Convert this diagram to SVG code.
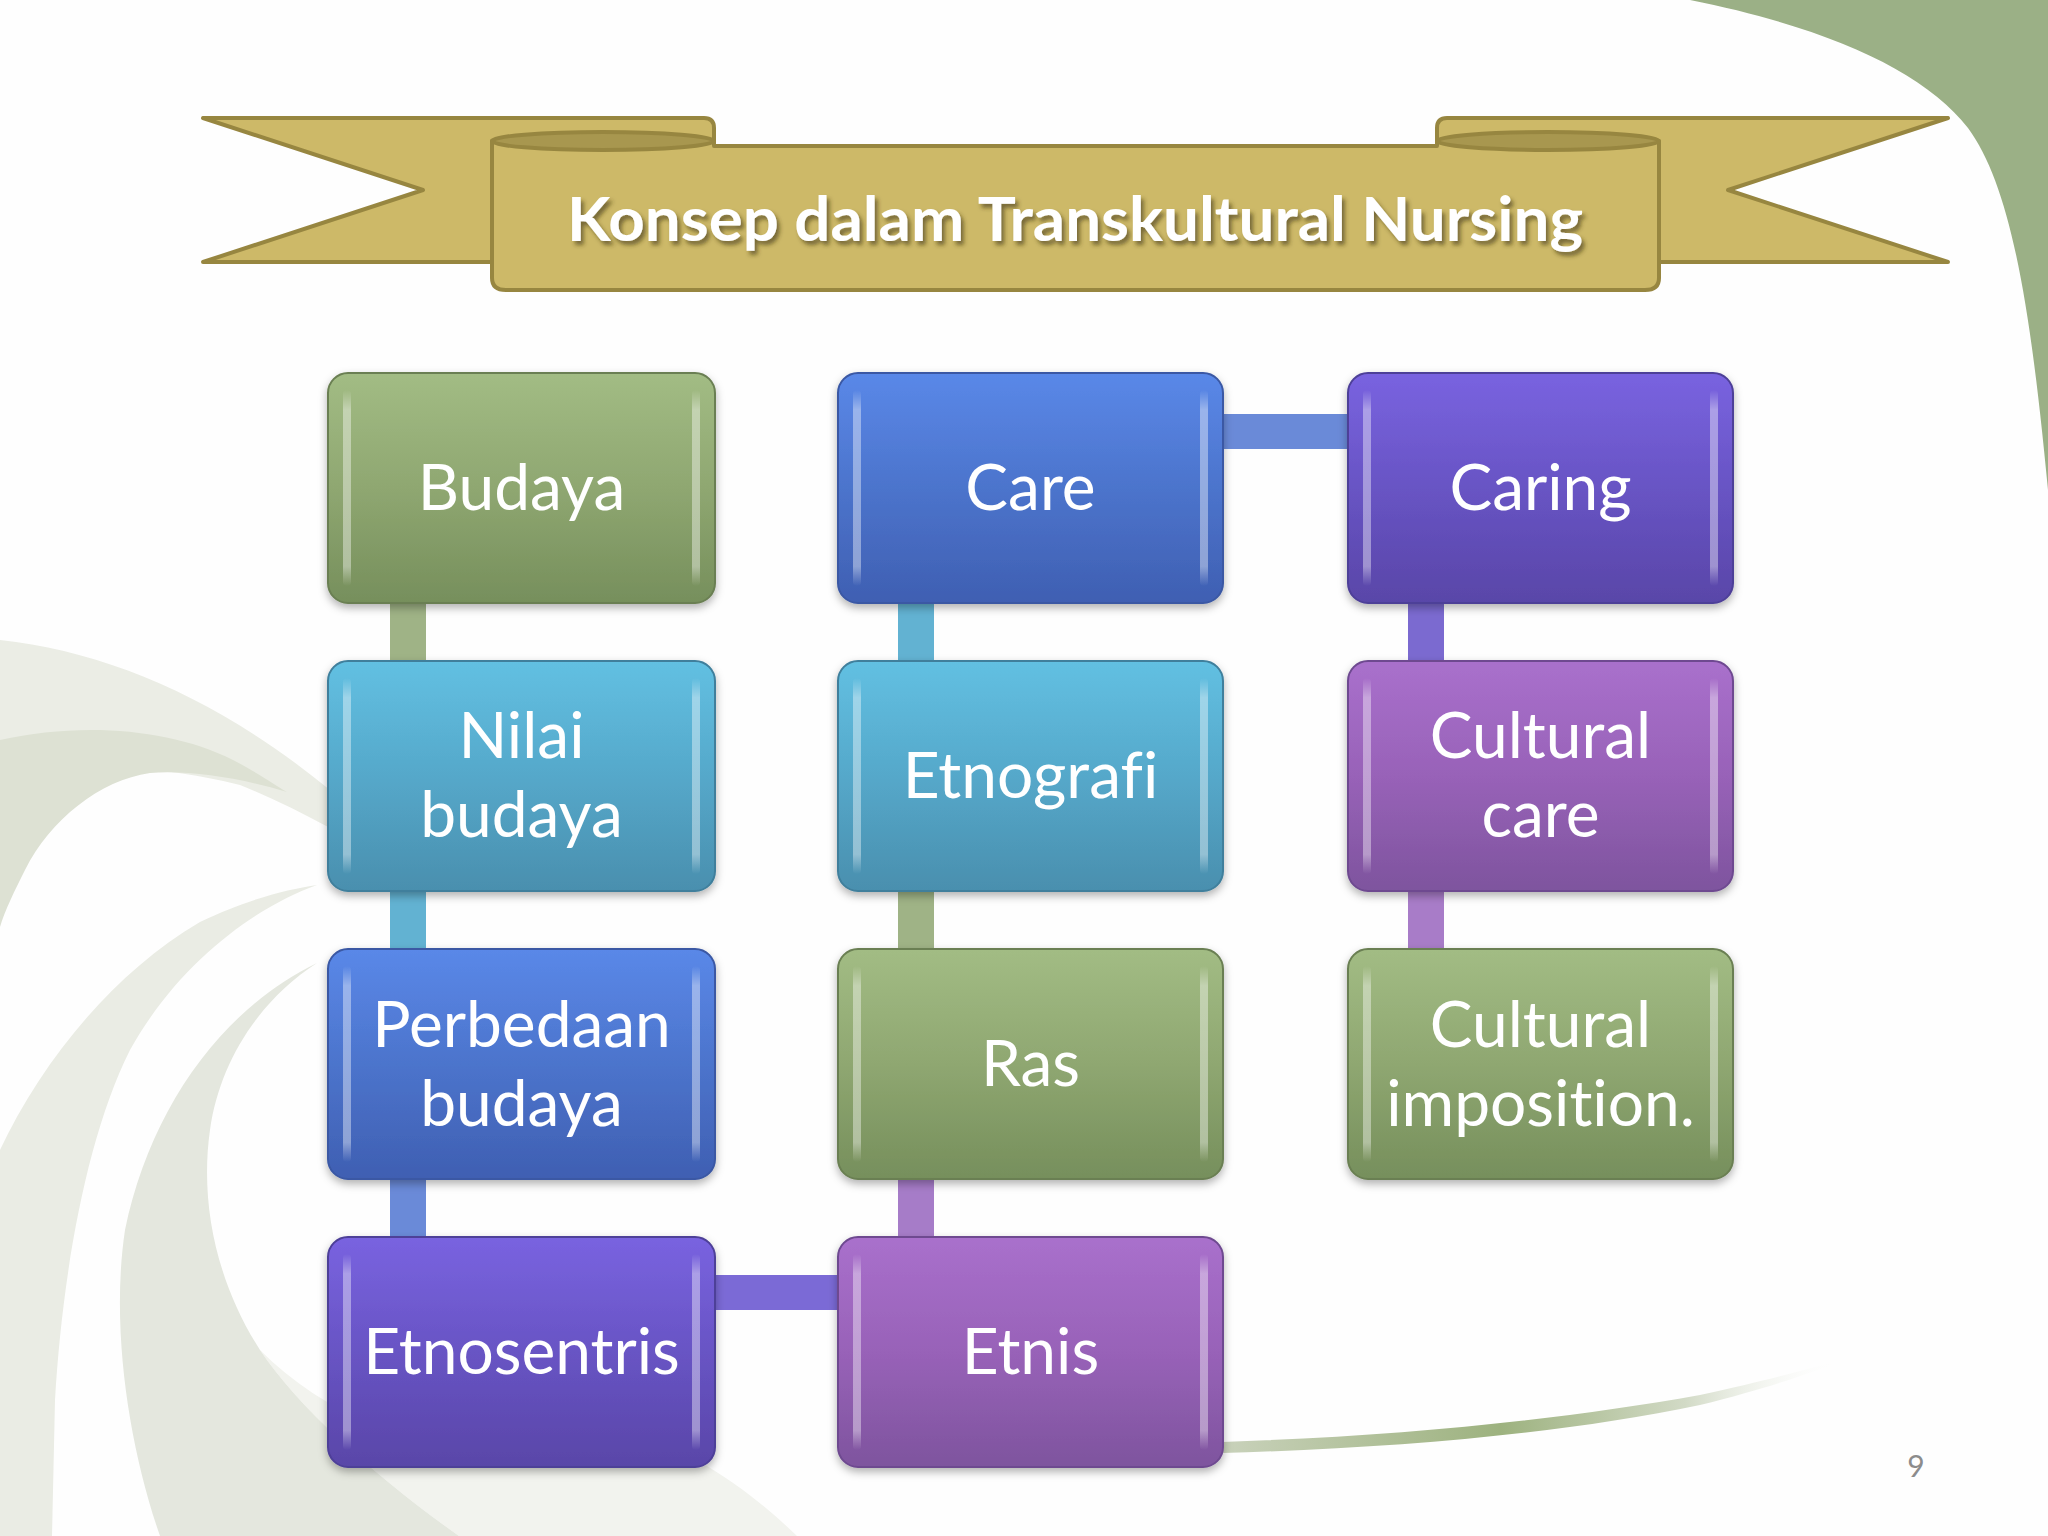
<svg xmlns="http://www.w3.org/2000/svg" width="2048" height="1536" viewBox="0 0 2048 1536">
<defs>
<style>
.lbl{font-family:Lato,"Open Sans","Liberation Sans",sans-serif;font-size:64px;fill:#ffffff;text-anchor:middle;font-variant-ligatures:none;font-feature-settings:"liga" 0,"clig" 0}
.box{stroke-width:2}
.hl{fill:url(#hl)}
.con{stroke:none}
.ban{fill:#cdb968;stroke:#978640;stroke-width:4;stroke-linejoin:round}
.lip{fill:#a8974f;stroke:#978640;stroke-width:4}
</style>
<linearGradient id="gGreen" x1="0" y1="0" x2="0" y2="1"><stop offset="0" stop-color="#a2bc84"/><stop offset="0.5" stop-color="#8fa771"/><stop offset="1" stop-color="#768f5c"/></linearGradient>
<linearGradient id="gCyan" x1="0" y1="0" x2="0" y2="1"><stop offset="0" stop-color="#62c0e2"/><stop offset="0.5" stop-color="#55a8ca"/><stop offset="1" stop-color="#4a8fae"/></linearGradient>
<linearGradient id="gBlue" x1="0" y1="0" x2="0" y2="1"><stop offset="0" stop-color="#5a88e8"/><stop offset="0.5" stop-color="#4c74cc"/><stop offset="1" stop-color="#3f5fb2"/></linearGradient>
<linearGradient id="gIndigo" x1="0" y1="0" x2="0" y2="1"><stop offset="0" stop-color="#7963e0"/><stop offset="0.5" stop-color="#6854c4"/><stop offset="1" stop-color="#5946a8"/></linearGradient>
<linearGradient id="gViolet" x1="0" y1="0" x2="0" y2="1"><stop offset="0" stop-color="#a970cc"/><stop offset="0.5" stop-color="#9862b8"/><stop offset="1" stop-color="#7e549e"/></linearGradient>
<linearGradient id="hl" x1="0" y1="0" x2="0" y2="1"><stop offset="0" stop-color="#ffffff" stop-opacity="0"/><stop offset="0.1" stop-color="#ffffff" stop-opacity="0.4"/><stop offset="0.9" stop-color="#ffffff" stop-opacity="0.4"/><stop offset="1" stop-color="#ffffff" stop-opacity="0"/></linearGradient>
<linearGradient id="gLine" x1="1222" y1="0" x2="1840" y2="0" gradientUnits="userSpaceOnUse"><stop offset="0" stop-color="#c9d2bb"/><stop offset="0.45" stop-color="#9db27f"/><stop offset="0.75" stop-color="#d2dac6"/><stop offset="1" stop-color="#ffffff" stop-opacity="0"/></linearGradient>
<filter id="shadow" x="-10%" y="-10%" width="120%" height="130%"><feDropShadow dx="0" dy="4" stdDeviation="4" flood-color="#000000" flood-opacity="0.3"/></filter>
<filter id="tshadow" x="-5%" y="-20%" width="110%" height="150%"><feDropShadow dx="3" dy="4" stdDeviation="2" flood-color="#3a3210" flood-opacity="0.6"/></filter>
</defs>

<rect x="0" y="0" width="2048" height="1536" fill="#fefefe"/>

<g id="background">
<path d="M1690,0 C1830,28 1925,72 1968,128 C2010,185 2030,300 2048,490 L2048,0 Z" fill="#9bb086"/>
<path d="M0,640 C110,652 220,700 330,790 L330,828 C300,812 270,797 240,785 C180,770 100,760 0,770 Z" fill="#ebede5"/>
<path d="M0,740 C80,722 170,728 233,760 C258,773 275,785 287,792 C240,778 190,770 150,773 C100,780 50,820 25,870 C15,890 5,910 0,927 Z" fill="#dde1d3"/>
<path d="M0,1150 C40,1065 110,975 200,922 C250,898 290,889 317,885 C260,905 180,960 130,1050 C85,1140 62,1280 55,1400 L52,1536 L0,1536 Z" fill="#eaece4"/>
<path d="M260,1350 C330,1420 420,1450 530,1460 L700,1462 C740,1485 770,1510 797,1536 L459,1536 C380,1480 300,1410 260,1350 Z" fill="#f2f3ee"/>
<path d="M317,963 C220,1010 150,1110 125,1230 C110,1330 130,1450 160,1536 L459,1536 C380,1480 300,1410 260,1350 C215,1280 200,1200 210,1130 C220,1060 260,1000 317,963 Z" fill="#e4e7de"/>
<path d="M1222,1442 C1400,1436 1560,1420 1700,1395 C1770,1380 1815,1367 1840,1360 L1840,1362 C1815,1371 1770,1388 1700,1405 C1560,1434 1400,1448 1222,1453 Z" fill="url(#gLine)"/>
</g>

<g id="banner">
<path class="ban" d="M203,118 L704,118 Q714,118 714,128 L714,150 L492,150 L492,262 L203,262 L423,190 Z"/>
<path class="ban" d="M1948,118 L1447,118 Q1437,118 1437,128 L1437,150 L1659,150 L1659,262 L1948,262 L1728,190 Z"/>
<path class="ban" d="M492,141 L492,278 Q492,290 506,290 L1645,290 Q1659,290 1659,278 L1659,141 L1437,141 L1437,146 L714,146 L714,141 Z"/>
<ellipse class="lip" cx="603" cy="141" rx="111" ry="9"/>
<ellipse class="lip" cx="1548" cy="141" rx="111" ry="9"/>
<text x="1075" y="241" font-family="Lato,'Open Sans','Liberation Sans',sans-serif" font-weight="bold" font-size="61" fill="#ffffff" text-anchor="middle" textLength="1016" lengthAdjust="spacingAndGlyphs" filter="url(#tshadow)">Konsep dalam Transkultural Nursing</text>
</g>

<g id="connectors">
<rect class="con" x="390" y="600" width="36" height="66" fill="#9fb386"/>
<rect class="con" x="390" y="888" width="36" height="66" fill="#62b2d2"/>
<rect class="con" x="390" y="1176" width="36" height="66" fill="#6a8ad8"/>
<rect class="con" x="710" y="1275" width="133" height="35" fill="#7b6ad6"/>
<rect class="con" x="898" y="1176" width="36" height="66" fill="#a67cc8"/>
<rect class="con" x="898" y="888" width="36" height="66" fill="#9fb386"/>
<rect class="con" x="898" y="600" width="36" height="66" fill="#62b2d2"/>
<rect class="con" x="1218" y="414" width="135" height="35" fill="#6a8ad8"/>
<rect class="con" x="1408" y="600" width="36" height="66" fill="#7b6ad0"/>
<rect class="con" x="1408" y="888" width="36" height="66" fill="#a87cc8"/>
</g>

<g id="node-budaya">
<rect class="box" x="328" y="373" width="387" height="230" rx="20" fill="url(#gGreen)" stroke="#6a7f52" filter="url(#shadow)"/>
<rect class="hl" x="343" y="390" width="8" height="196" rx="4"/><rect class="hl" x="692" y="390" width="8" height="196" rx="4"/>
<text class="lbl" x="521.5" y="510">Budaya</text>
</g>
<g id="node-nilai-budaya">
<rect class="box" x="328" y="661" width="387" height="230" rx="20" fill="url(#gCyan)" stroke="#3f7f9c" filter="url(#shadow)"/>
<rect class="hl" x="343" y="678" width="8" height="196" rx="4"/><rect class="hl" x="692" y="678" width="8" height="196" rx="4"/>
<text class="lbl" x="521.5" y="758">Nilai</text><text class="lbl" x="521.5" y="837">budaya</text>
</g>
<g id="node-perbedaan-budaya">
<rect class="box" x="328" y="949" width="387" height="230" rx="20" fill="url(#gBlue)" stroke="#3a58a4" filter="url(#shadow)"/>
<rect class="hl" x="343" y="966" width="8" height="196" rx="4"/><rect class="hl" x="692" y="966" width="8" height="196" rx="4"/>
<text class="lbl" x="521.5" y="1047">Perbedaan</text><text class="lbl" x="521.5" y="1126">budaya</text>
</g>
<g id="node-etnosentris">
<rect class="box" x="328" y="1237" width="387" height="230" rx="20" fill="url(#gIndigo)" stroke="#4e3f98" filter="url(#shadow)"/>
<rect class="hl" x="343" y="1254" width="8" height="196" rx="4"/><rect class="hl" x="692" y="1254" width="8" height="196" rx="4"/>
<text class="lbl" x="521.5" y="1374">Etnosentris</text>
</g>
<g id="node-care">
<rect class="box" x="838" y="373" width="385" height="230" rx="20" fill="url(#gBlue)" stroke="#3a58a4" filter="url(#shadow)"/>
<rect class="hl" x="853" y="390" width="8" height="196" rx="4"/><rect class="hl" x="1200" y="390" width="8" height="196" rx="4"/>
<text class="lbl" x="1030.5" y="510">Care</text>
</g>
<g id="node-etnografi">
<rect class="box" x="838" y="661" width="385" height="230" rx="20" fill="url(#gCyan)" stroke="#3f7f9c" filter="url(#shadow)"/>
<rect class="hl" x="853" y="678" width="8" height="196" rx="4"/><rect class="hl" x="1200" y="678" width="8" height="196" rx="4"/>
<text class="lbl" x="1030.5" y="798">Etnografi</text>
</g>
<g id="node-ras">
<rect class="box" x="838" y="949" width="385" height="230" rx="20" fill="url(#gGreen)" stroke="#6a7f52" filter="url(#shadow)"/>
<rect class="hl" x="853" y="966" width="8" height="196" rx="4"/><rect class="hl" x="1200" y="966" width="8" height="196" rx="4"/>
<text class="lbl" x="1030.5" y="1086">Ras</text>
</g>
<g id="node-etnis">
<rect class="box" x="838" y="1237" width="385" height="230" rx="20" fill="url(#gViolet)" stroke="#6e4a90" filter="url(#shadow)"/>
<rect class="hl" x="853" y="1254" width="8" height="196" rx="4"/><rect class="hl" x="1200" y="1254" width="8" height="196" rx="4"/>
<text class="lbl" x="1030.5" y="1374">Etnis</text>
</g>
<g id="node-caring">
<rect class="box" x="1348" y="373" width="385" height="230" rx="20" fill="url(#gIndigo)" stroke="#4e3f98" filter="url(#shadow)"/>
<rect class="hl" x="1363" y="390" width="8" height="196" rx="4"/><rect class="hl" x="1710" y="390" width="8" height="196" rx="4"/>
<text class="lbl" x="1540.5" y="510">Caring</text>
</g>
<g id="node-cultural-care">
<rect class="box" x="1348" y="661" width="385" height="230" rx="20" fill="url(#gViolet)" stroke="#6e4a90" filter="url(#shadow)"/>
<rect class="hl" x="1363" y="678" width="8" height="196" rx="4"/><rect class="hl" x="1710" y="678" width="8" height="196" rx="4"/>
<text class="lbl" x="1540.5" y="758">Cultural</text><text class="lbl" x="1540.5" y="837">care</text>
</g>
<g id="node-cultural-imposition">
<rect class="box" x="1348" y="949" width="385" height="230" rx="20" fill="url(#gGreen)" stroke="#6a7f52" filter="url(#shadow)"/>
<rect class="hl" x="1363" y="966" width="8" height="196" rx="4"/><rect class="hl" x="1710" y="966" width="8" height="196" rx="4"/>
<text class="lbl" x="1540.5" y="1047">Cultural</text><text class="lbl" x="1540.5" y="1126">imposition.</text>
</g>

<text x="1916" y="1477" font-family="Lato,'Open Sans','Liberation Sans',sans-serif" font-size="30" fill="#8c8c8c" text-anchor="middle">9</text>
</svg>
